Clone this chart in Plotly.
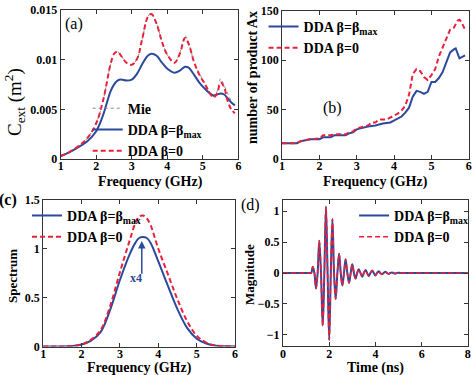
import plotly.graph_objects as go

# ---------------- data ----------------
# (a) extinction cross section
freq_a = [1.0, 1.25, 1.5, 1.75, 2.0, 2.2, 2.4, 2.5, 2.6, 2.7, 2.85, 3.0, 3.15, 3.3, 3.45, 3.55,
          3.7, 3.85, 4.0, 4.2, 4.35, 4.5, 4.6, 4.75, 4.9, 5.05, 5.2, 5.3, 5.4, 5.5, 5.6, 5.7, 5.8, 5.9]
cext_mie = [0.0003, 0.0007, 0.0013, 0.0021, 0.0036, 0.0060, 0.0095, 0.0106, 0.0108, 0.0104, 0.0097,
            0.0095, 0.0101, 0.0122, 0.0143, 0.0147, 0.0136, 0.0118, 0.0105, 0.0097, 0.0107, 0.0124,
            0.0117, 0.0098, 0.0086, 0.0077, 0.0067, 0.0063, 0.0068, 0.0081, 0.0074, 0.0066, 0.0058, 0.0052]
cext_beta_max = [0.0003, 0.0007, 0.0012, 0.0018, 0.0028, 0.0045, 0.0068, 0.0075, 0.0079, 0.0080, 0.0079,
                 0.0080, 0.0086, 0.0096, 0.0104, 0.0106, 0.0104, 0.0097, 0.0091, 0.0087, 0.0089, 0.0093,
                 0.0092, 0.0085, 0.0077, 0.0071, 0.0066, 0.0064, 0.0065, 0.0066, 0.0065, 0.0061, 0.0057, 0.0054]
cext_beta0 = [0.0003, 0.0007, 0.0013, 0.0021, 0.0036, 0.0060, 0.0095, 0.0106, 0.0108, 0.0104, 0.0097,
              0.0095, 0.0101, 0.0122, 0.0143, 0.0146, 0.0136, 0.0118, 0.0105, 0.0097, 0.0106, 0.0122,
              0.0116, 0.0098, 0.0085, 0.0076, 0.0066, 0.0062, 0.0066, 0.0077, 0.0072, 0.0058, 0.0050, 0.0046]

# (b) number of matrix-vector products
freq_b_max = [1.0, 1.4, 1.5, 1.75, 2.0, 2.1, 2.3, 2.4, 2.7, 2.8, 2.9, 3.0, 3.1, 3.3, 3.5, 3.7, 3.9,
              4.0, 4.1, 4.2, 4.3, 4.4, 4.5, 4.6, 4.7, 4.8, 4.9, 5.0, 5.1, 5.2, 5.3, 5.4, 5.5, 5.6,
              5.65, 5.75, 5.9]
ax_beta_max = [16, 16, 18, 20, 20, 22, 22, 24, 24, 26, 27, 30, 31, 33, 34, 36, 37,
               39, 41, 43, 47, 52, 63, 69, 68, 66, 68, 78, 78, 82, 88, 98, 108, 111,
               112, 102, 105]
freq_b_0 = [1.0, 1.4, 1.5, 1.75, 2.0, 2.1, 2.3, 2.4, 2.7, 2.8, 2.9, 3.0, 3.1, 3.3, 3.4, 3.5, 3.6,
            3.8, 4.0, 4.1, 4.2, 4.3, 4.4, 4.5, 4.6, 4.7, 4.8, 4.9, 5.0, 5.1, 5.2, 5.3, 5.4, 5.5,
            5.6, 5.7, 5.75, 5.8, 5.9]
ax_beta0 = [16, 16, 18, 20, 21, 24, 24, 25, 25, 27, 28, 31, 32, 34, 37, 37, 40,
            40, 44, 46, 49, 54, 65, 86, 91, 89, 83, 80, 85, 91, 104, 113, 121, 131,
            133, 140, 141, 139, 131]

# (c) spectrum
freq_c = [1.0, 1.5, 1.75, 2.0, 2.25, 2.5, 2.75, 3.0, 3.25, 3.4, 3.5, 3.6, 3.7, 3.8, 4.0, 4.25,
          4.5, 4.75, 5.0, 5.25, 5.5, 5.75, 6.0]
spec_beta_max = [0, 0, 0.005, 0.02, 0.06, 0.15, 0.38, 0.68, 0.94, 1.06, 1.11, 1.12, 1.11, 1.06,
                 0.87, 0.62, 0.38, 0.19, 0.08, 0.03, 0.008, 0.002, 0]
spec_beta0 = [0, 0, 0.005, 0.02, 0.07, 0.17, 0.42, 0.76, 1.08, 1.26, 1.33, 1.34, 1.31, 1.24,
              1.00, 0.74, 0.48, 0.26, 0.11, 0.04, 0.01, 0.003, 0]

# (d) time-domain signal
time_d = [0, 1.0, 1.15, 1.22, 1.29, 1.36, 1.43, 1.50, 1.57, 1.645, 1.72, 1.79, 1.86, 1.93, 2.00,
          2.07, 2.14, 2.21, 2.28, 2.355, 2.43, 2.50, 2.57, 2.64, 2.71, 2.785, 2.86, 2.93, 3.00,
          3.07, 3.14, 3.21, 3.28, 3.355, 3.43, 3.50, 3.57, 3.64, 3.71, 3.785, 3.86, 3.93, 4.00,
          4.07, 4.14, 4.21, 4.28, 4.355, 4.43, 4.50, 4.57, 4.64, 4.71, 4.785, 4.86, 4.93, 5.00,
          5.07, 5.5, 6.0, 7.0, 8.0]
mag_beta_max = [0, 0, 0, 0, 0.10, 0, -0.25, 0, 0.52, 0, -0.85, 0, 1.07, 0, -1.08,
                0, 0.87, 0, -0.42, 0, 0.31, 0, -0.20, 0, 0.22, 0, -0.16, 0, 0.14,
                0, -0.09, 0, 0.06, 0, -0.06, 0, 0.05, 0, -0.05, 0, 0.04, 0, -0.04,
                0, 0.03, 0, -0.02, 0, 0.02, 0, -0.015, 0, 0.01, 0, -0.01, 0, 0.005,
                0, 0, 0, 0, 0]
mag_beta0 = [0, 0, 0, 0, 0.10, 0, -0.25, 0, 0.52, 0, -0.85, 0, 1.07, 0, -1.08,
             0, 0.87, 0, -0.42, 0, 0.31, 0, -0.20, 0, 0.22, 0, -0.16, 0, 0.14,
             0, -0.09, 0, 0.06, 0, -0.06, 0, 0.05, 0, -0.05, 0, 0.04, 0, -0.04,
             0, 0.03, 0, -0.02, 0, 0.02, 0, -0.015, 0, 0.01, 0, -0.01, 0, 0.005,
             0, 0, 0, 0, 0]

# tick labels
ticks_freq = [1, 2, 3, 4, 5, 6]
ticks_a = [0, 0.005, 0.01, 0.015]
ticklab_a = ["0", "0.005", "0.01", "0.015"]
ticks_b = [0, 50, 100, 150]
ticks_c = [0, 0.5, 1, 1.5]
ticklab_c = ["0", "0.5", "1", "1.5"]
ticks_time = [0, 2, 4, 6, 8]
ticks_d = [-1, -0.5, 0, 0.5, 1]
ticklab_d = ["\u22121", "\u22120.5", "0", "0.5", "1"]

# ---------------- style ----------------
BLUE = "#2b4a9c"
RED = "#e8203c"
SERIF = "Liberation Serif"
W, H = 474, 375
RED_DASH = "5px,3px"

lbl_max = "DDA \u03b2=\u03b2<sub>max</sub>"
lbl_0 = "DDA \u03b2=0"

fig = go.Figure()

# (a)
fig.add_trace(go.Scatter(x=freq_a, y=cext_mie, mode="lines", name="Mie", legend="legend",
                         line=dict(color="#8a8a8a", width=1, dash="dot", shape="spline"),
                         xaxis="x", yaxis="y"))
fig.add_trace(go.Scatter(x=freq_a, y=cext_beta_max, mode="lines", name=lbl_max, legend="legend",
                         line=dict(color=BLUE, width=2, shape="spline"), xaxis="x", yaxis="y"))
fig.add_trace(go.Scatter(x=freq_a, y=cext_beta0, mode="lines", name=lbl_0, legend="legend",
                         line=dict(color=RED, width=2, dash=RED_DASH, shape="spline"),
                         xaxis="x", yaxis="y"))
# (b)
fig.add_trace(go.Scatter(x=freq_b_max, y=ax_beta_max, mode="lines", name=lbl_max, legend="legend2",
                         line=dict(color=BLUE, width=2), xaxis="x2", yaxis="y2"))
fig.add_trace(go.Scatter(x=freq_b_0, y=ax_beta0, mode="lines", name=lbl_0, legend="legend2",
                         line=dict(color=RED, width=2, dash=RED_DASH), xaxis="x2", yaxis="y2"))
# (c)
fig.add_trace(go.Scatter(x=freq_c, y=spec_beta_max, mode="lines", name=lbl_max, legend="legend3",
                         line=dict(color=BLUE, width=2, shape="spline"), xaxis="x3", yaxis="y3"))
fig.add_trace(go.Scatter(x=freq_c, y=spec_beta0, mode="lines", name=lbl_0, legend="legend3",
                         line=dict(color=RED, width=2, dash=RED_DASH, shape="spline"),
                         xaxis="x3", yaxis="y3"))
# (d)
fig.add_trace(go.Scatter(x=time_d, y=mag_beta_max, mode="lines", name=lbl_max, legend="legend4",
                         line=dict(color=BLUE, width=2, shape="spline"), xaxis="x4", yaxis="y4"))
fig.add_trace(go.Scatter(x=time_d, y=mag_beta0, mode="lines", name=lbl_0, legend="legend4",
                         line=dict(color=RED, width=1.6, dash=RED_DASH, shape="spline"),
                         xaxis="x4", yaxis="y4"))

tickfont = dict(family=SERIF, size=12, color="black", weight="bold")


def xax(domain, anchor, rng, tickvals, standoff=-4):
    return dict(domain=domain, anchor=anchor, range=rng, tickvals=tickvals,
                ticktext=[str(v) for v in tickvals], showline=True, linecolor="#333",
                linewidth=1, mirror="ticks", ticks="inside", ticklen=4, tickcolor="#333",
                showgrid=False, zeroline=False, tickfont=tickfont, automargin=False,
                ticklabelstandoff=standoff)


def yax(domain, anchor, rng, tickvals, ticktext):
    return dict(domain=domain, anchor=anchor, range=rng, tickvals=tickvals, ticktext=ticktext,
                showline=True, linecolor="#333", linewidth=1, mirror="ticks", ticks="inside",
                ticklen=4, tickcolor="#333", showgrid=False, zeroline=False, tickfont=tickfont,
                automargin=False)


legfont = dict(family=SERIF, size=14, color="black", weight="bold")


def leg(x, y):
    return dict(x=x, y=y, xanchor="left", yanchor="top", bgcolor="rgba(0,0,0,0)",
                font=legfont, itemwidth=30, tracegroupgap=0)


fig.update_layout(
    width=W, height=H, margin=dict(l=0, r=0, t=0, b=0, autoexpand=False),
    paper_bgcolor="white", plot_bgcolor="white", showlegend=True,
    xaxis=xax([0.128, 0.503], "y", [1, 6], ticks_freq),
    yaxis=yax([0.576, 0.973], "x", [0, 0.015], ticks_a, ticklab_a),
    xaxis2=xax([0.595, 0.989], "y2", [1, 6], ticks_freq),
    yaxis2=yax([0.576, 0.971], "x2", [0, 150], ticks_b, [str(v) for v in ticks_b]),
    xaxis3=xax([0.091, 0.496], "y3", [1, 6], ticks_freq),
    yaxis3=yax([0.076, 0.467], "x3", [0, 1.5], ticks_c, ticklab_c),
    xaxis4=xax([0.597, 0.987], "y4", [0, 8], ticks_time),
    yaxis4=yax([0.077, 0.467], "x4", [-1.18, 1.18], ticks_d, ticklab_d),
    legend=leg(0.185, 0.753),
    legend2=leg(0.556, 0.971),
    legend3=leg(0.057, 0.467),
    legend4=leg(0.747, 0.467),
)

# axis titles (pixel centres converted to paper fractions)
titles = [
    ("Frequency (GHz)", 150, 182, 0, 14, "bold"),
    ("Frequency (GHz)", 375, 182, 0, 14, "bold"),
    ("Frequency (GHz)", 139, 368, 0, 14, "bold"),
    ("Time (ns)", 375, 368, 0, 14, "bold"),
    ("C<sub>ext</sub> (m<sup>2</sup>)", 14, 102, -90, 19, "normal"),
    ("number of product Ax", 253, 78, -90, 14, "bold"),
    ("Spectrum", 12, 276, -90, 13, "bold"),
    ("Magnitude", 249, 275, -90, 13, "bold"),
]
for txt, px, py, ang, sz, wt in titles:
    fig.add_annotation(x=px / W, y=1 - py / H, xref="paper", yref="paper", text=txt,
                       showarrow=False, textangle=ang, xanchor="center", yanchor="middle",
                       font=dict(family=SERIF, size=sz, color="black", weight=wt))

# panel labels
panel_labels = [("(a)", 74, 24, "normal"), ("(b)", 332, 108, "normal"),
                ("(c)", 8, 200, "bold"), ("(d)", 250, 205, "normal")]
for txt, px, py, wt in panel_labels:
    fig.add_annotation(x=px / W, y=1 - py / H, xref="paper", yref="paper", text=txt,
                       showarrow=False, xanchor="center", yanchor="middle",
                       font=dict(family=SERIF, size=16, color="black", weight=wt))

# x4 arrow in (c)
arrow_x, arrow_y0, arrow_y1 = 3.57, 0.73, 1.08
fig.add_annotation(x=arrow_x, y=arrow_y1, ax=arrow_x, ay=arrow_y0, xref="x3", yref="y3",
                   axref="x3", ayref="y3", text="", showarrow=True, arrowhead=2,
                   arrowsize=1, arrowwidth=1.5, arrowcolor=BLUE)
fig.add_annotation(x=3.42, y=0.70, xref="x3", yref="y3", text="x4", showarrow=False,
                   font=dict(family=SERIF, size=12, color=BLUE, weight="bold"))

fig.write_html("out.html", config={"displayModeBar": False},
               post_script="document.body.style.margin='0';document.body.style.overflow='hidden';")
